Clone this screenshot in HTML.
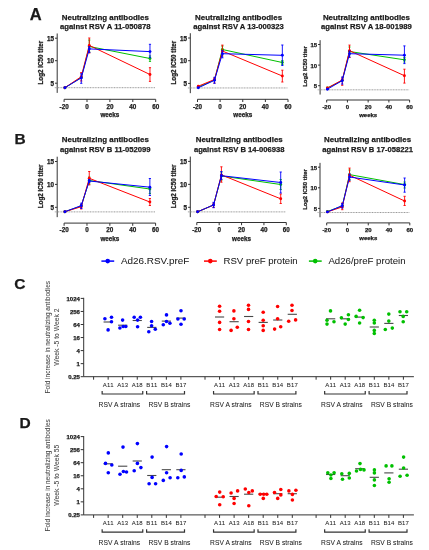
<!DOCTYPE html>
<html><head><meta charset="utf-8"><style>
html,body{margin:0;padding:0;background:#fff;width:429px;height:550px;overflow:hidden}
svg{display:block;will-change:transform}
text{font-family:"Liberation Sans",sans-serif}
</style></head><body>
<svg width="429" height="550" viewBox="0 0 429 550">
<rect width="429" height="550" fill="#fff"/>
<text x="105.3" y="19.75" font-size="8.1" font-weight="bold" fill="#1a1a1a" stroke="#1a1a1a" stroke-width="0.25" text-anchor="middle" textLength="87" lengthAdjust="spacingAndGlyphs">Neutralizing antibodies</text>
<text x="105.3" y="29.4" font-size="8.1" font-weight="bold" fill="#1a1a1a" stroke="#1a1a1a" stroke-width="0.25" text-anchor="middle" textLength="90.6" lengthAdjust="spacingAndGlyphs">against RSV A 11-050878</text>
<line x1="57.20" y1="33.48" x2="57.20" y2="92.88" stroke="#333333" stroke-width="1"/>
<line x1="55.00" y1="83.20" x2="57.20" y2="83.20" stroke="#333333" stroke-width="1"/>
<text x="54.0" y="85.9" font-size="6.3" font-weight="bold" fill="#1a1a1a" stroke="#1a1a1a" stroke-width="0.25" text-anchor="end">5</text>
<line x1="55.00" y1="60.70" x2="57.20" y2="60.70" stroke="#333333" stroke-width="1"/>
<text x="54.0" y="63.400000000000006" font-size="6.3" font-weight="bold" fill="#1a1a1a" stroke="#1a1a1a" stroke-width="0.25" text-anchor="end">10</text>
<line x1="55.00" y1="38.20" x2="57.20" y2="38.20" stroke="#333333" stroke-width="1"/>
<text x="54.0" y="40.900000000000006" font-size="6.3" font-weight="bold" fill="#1a1a1a" stroke="#1a1a1a" stroke-width="0.25" text-anchor="end">15</text>
<text x="42.6" y="62.650000000000006" font-size="6.3" font-weight="bold" fill="#1a1a1a" stroke="#1a1a1a" stroke-width="0.25" text-anchor="middle" transform="rotate(-90 42.6 62.650000000000006)">Log2 IC50 titer</text>
<line x1="64.10" y1="99.30" x2="155.70" y2="99.30" stroke="#333333" stroke-width="1"/>
<line x1="64.10" y1="99.30" x2="64.10" y2="102.00" stroke="#333333" stroke-width="1"/>
<text x="64.1" y="108.5" font-size="6.3" font-weight="bold" fill="#1a1a1a" stroke="#1a1a1a" stroke-width="0.25" text-anchor="middle">-20</text>
<line x1="87.00" y1="99.30" x2="87.00" y2="102.00" stroke="#333333" stroke-width="1"/>
<text x="87.0" y="108.5" font-size="6.3" font-weight="bold" fill="#1a1a1a" stroke="#1a1a1a" stroke-width="0.25" text-anchor="middle">0</text>
<line x1="109.90" y1="99.30" x2="109.90" y2="102.00" stroke="#333333" stroke-width="1"/>
<text x="109.89999999999999" y="108.5" font-size="6.3" font-weight="bold" fill="#1a1a1a" stroke="#1a1a1a" stroke-width="0.25" text-anchor="middle">20</text>
<line x1="132.80" y1="99.30" x2="132.80" y2="102.00" stroke="#333333" stroke-width="1"/>
<text x="132.8" y="108.5" font-size="6.3" font-weight="bold" fill="#1a1a1a" stroke="#1a1a1a" stroke-width="0.25" text-anchor="middle">40</text>
<line x1="155.70" y1="99.30" x2="155.70" y2="102.00" stroke="#333333" stroke-width="1"/>
<text x="155.7" y="108.5" font-size="6.3" font-weight="bold" fill="#1a1a1a" stroke="#1a1a1a" stroke-width="0.25" text-anchor="middle">60</text>
<text x="109.89999999999999" y="117.3" font-size="6.3" font-weight="bold" fill="#1a1a1a" stroke="#1a1a1a" stroke-width="0.25" text-anchor="middle">weeks</text>
<line x1="54.80" y1="87.70" x2="155.20" y2="87.70" stroke="#9a9a9a" stroke-width="1.0" stroke-dasharray="1 0.6"/>
<polyline points="64.90,87.70 81.27,77.50 89.29,46.50 149.97,58.50" fill="none" stroke="#00c000" stroke-width="1.0" stroke-linejoin="round"/>
<line x1="89.29" y1="40.00" x2="89.29" y2="52.00" stroke="#00c000" stroke-width="0.9"/>
<line x1="88.19" y1="40.00" x2="90.39" y2="40.00" stroke="#00c000" stroke-width="0.9"/>
<line x1="88.19" y1="52.00" x2="90.39" y2="52.00" stroke="#00c000" stroke-width="0.9"/>
<line x1="149.97" y1="55.90" x2="149.97" y2="61.40" stroke="#00c000" stroke-width="0.9"/>
<line x1="148.88" y1="55.90" x2="151.07" y2="55.90" stroke="#00c000" stroke-width="0.9"/>
<line x1="148.88" y1="61.40" x2="151.07" y2="61.40" stroke="#00c000" stroke-width="0.9"/>
<circle cx="64.90" cy="87.70" r="1.45" fill="#00c000"/>
<circle cx="81.27" cy="77.50" r="1.45" fill="#00c000"/>
<circle cx="89.29" cy="46.50" r="1.45" fill="#00c000"/>
<circle cx="149.97" cy="58.50" r="1.45" fill="#00c000"/>
<polyline points="64.90,87.70 81.27,76.70 89.29,45.40 149.97,74.50" fill="none" stroke="#ff0000" stroke-width="1.0" stroke-linejoin="round"/>
<line x1="81.27" y1="72.60" x2="81.27" y2="81.00" stroke="#ff0000" stroke-width="0.9"/>
<line x1="80.17" y1="72.60" x2="82.37" y2="72.60" stroke="#ff0000" stroke-width="0.9"/>
<line x1="80.17" y1="81.00" x2="82.37" y2="81.00" stroke="#ff0000" stroke-width="0.9"/>
<line x1="89.29" y1="38.00" x2="89.29" y2="53.00" stroke="#ff0000" stroke-width="0.9"/>
<line x1="88.19" y1="38.00" x2="90.39" y2="38.00" stroke="#ff0000" stroke-width="0.9"/>
<line x1="88.19" y1="53.00" x2="90.39" y2="53.00" stroke="#ff0000" stroke-width="0.9"/>
<line x1="149.97" y1="67.70" x2="149.97" y2="81.40" stroke="#ff0000" stroke-width="0.9"/>
<line x1="148.88" y1="67.70" x2="151.07" y2="67.70" stroke="#ff0000" stroke-width="0.9"/>
<line x1="148.88" y1="81.40" x2="151.07" y2="81.40" stroke="#ff0000" stroke-width="0.9"/>
<circle cx="64.90" cy="87.70" r="1.45" fill="#ff0000"/>
<circle cx="81.27" cy="76.70" r="1.45" fill="#ff0000"/>
<circle cx="89.29" cy="45.40" r="1.45" fill="#ff0000"/>
<circle cx="149.97" cy="74.50" r="1.45" fill="#ff0000"/>
<polyline points="64.90,87.70 81.27,77.90 89.29,48.90 149.97,51.60" fill="none" stroke="#0000ff" stroke-width="1.0" stroke-linejoin="round"/>
<line x1="81.27" y1="73.80" x2="81.27" y2="83.30" stroke="#0000ff" stroke-width="0.9"/>
<line x1="80.17" y1="73.80" x2="82.37" y2="73.80" stroke="#0000ff" stroke-width="0.9"/>
<line x1="80.17" y1="83.30" x2="82.37" y2="83.30" stroke="#0000ff" stroke-width="0.9"/>
<line x1="89.29" y1="46.60" x2="89.29" y2="52.50" stroke="#0000ff" stroke-width="0.9"/>
<line x1="88.19" y1="46.60" x2="90.39" y2="46.60" stroke="#0000ff" stroke-width="0.9"/>
<line x1="88.19" y1="52.50" x2="90.39" y2="52.50" stroke="#0000ff" stroke-width="0.9"/>
<line x1="149.97" y1="44.30" x2="149.97" y2="57.70" stroke="#0000ff" stroke-width="0.9"/>
<line x1="148.88" y1="44.30" x2="151.07" y2="44.30" stroke="#0000ff" stroke-width="0.9"/>
<line x1="148.88" y1="57.70" x2="151.07" y2="57.70" stroke="#0000ff" stroke-width="0.9"/>
<circle cx="64.90" cy="87.70" r="1.45" fill="#0000ff"/>
<circle cx="81.27" cy="77.90" r="1.45" fill="#0000ff"/>
<circle cx="89.29" cy="48.90" r="1.45" fill="#0000ff"/>
<circle cx="149.97" cy="51.60" r="1.45" fill="#0000ff"/>
<text x="238.6" y="19.75" font-size="8.1" font-weight="bold" fill="#1a1a1a" stroke="#1a1a1a" stroke-width="0.25" text-anchor="middle" textLength="87" lengthAdjust="spacingAndGlyphs">Neutralizing antibodies</text>
<text x="238.6" y="29.4" font-size="8.1" font-weight="bold" fill="#1a1a1a" stroke="#1a1a1a" stroke-width="0.25" text-anchor="middle" textLength="90.6" lengthAdjust="spacingAndGlyphs">against RSV A 13-000323</text>
<line x1="190.30" y1="33.23" x2="190.30" y2="93.16" stroke="#333333" stroke-width="1"/>
<line x1="188.10" y1="83.40" x2="190.30" y2="83.40" stroke="#333333" stroke-width="1"/>
<text x="187.10000000000002" y="86.10000000000001" font-size="6.3" font-weight="bold" fill="#1a1a1a" stroke="#1a1a1a" stroke-width="0.25" text-anchor="end">5</text>
<line x1="188.10" y1="60.70" x2="190.30" y2="60.70" stroke="#333333" stroke-width="1"/>
<text x="187.10000000000002" y="63.400000000000006" font-size="6.3" font-weight="bold" fill="#1a1a1a" stroke="#1a1a1a" stroke-width="0.25" text-anchor="end">10</text>
<line x1="188.10" y1="38.00" x2="190.30" y2="38.00" stroke="#333333" stroke-width="1"/>
<text x="187.10000000000002" y="40.7" font-size="6.3" font-weight="bold" fill="#1a1a1a" stroke="#1a1a1a" stroke-width="0.25" text-anchor="end">15</text>
<text x="175.70000000000002" y="62.67" font-size="6.3" font-weight="bold" fill="#1a1a1a" stroke="#1a1a1a" stroke-width="0.25" text-anchor="middle" transform="rotate(-90 175.70000000000002 62.67)">Log2 IC50 titer</text>
<line x1="197.50" y1="99.30" x2="288.00" y2="99.30" stroke="#333333" stroke-width="1"/>
<line x1="197.50" y1="99.30" x2="197.50" y2="102.00" stroke="#333333" stroke-width="1"/>
<text x="197.5" y="108.5" font-size="6.3" font-weight="bold" fill="#1a1a1a" stroke="#1a1a1a" stroke-width="0.25" text-anchor="middle">-20</text>
<line x1="220.12" y1="99.30" x2="220.12" y2="102.00" stroke="#333333" stroke-width="1"/>
<text x="220.125" y="108.5" font-size="6.3" font-weight="bold" fill="#1a1a1a" stroke="#1a1a1a" stroke-width="0.25" text-anchor="middle">0</text>
<line x1="242.75" y1="99.30" x2="242.75" y2="102.00" stroke="#333333" stroke-width="1"/>
<text x="242.75" y="108.5" font-size="6.3" font-weight="bold" fill="#1a1a1a" stroke="#1a1a1a" stroke-width="0.25" text-anchor="middle">20</text>
<line x1="265.38" y1="99.30" x2="265.38" y2="102.00" stroke="#333333" stroke-width="1"/>
<text x="265.375" y="108.5" font-size="6.3" font-weight="bold" fill="#1a1a1a" stroke="#1a1a1a" stroke-width="0.25" text-anchor="middle">40</text>
<line x1="288.00" y1="99.30" x2="288.00" y2="102.00" stroke="#333333" stroke-width="1"/>
<text x="288.0" y="108.5" font-size="6.3" font-weight="bold" fill="#1a1a1a" stroke="#1a1a1a" stroke-width="0.25" text-anchor="middle">60</text>
<text x="242.75" y="117.3" font-size="6.3" font-weight="bold" fill="#1a1a1a" stroke="#1a1a1a" stroke-width="0.25" text-anchor="middle">weeks</text>
<line x1="187.90" y1="87.94" x2="287.50" y2="87.94" stroke="#9a9a9a" stroke-width="1.0" stroke-dasharray="1 0.6"/>
<polyline points="198.30,87.00 214.47,80.00 222.39,49.50 282.34,62.50" fill="none" stroke="#00c000" stroke-width="1.0" stroke-linejoin="round"/>
<line x1="222.39" y1="46.00" x2="222.39" y2="54.00" stroke="#00c000" stroke-width="0.9"/>
<line x1="221.29" y1="46.00" x2="223.49" y2="46.00" stroke="#00c000" stroke-width="0.9"/>
<line x1="221.29" y1="54.00" x2="223.49" y2="54.00" stroke="#00c000" stroke-width="0.9"/>
<line x1="282.34" y1="60.50" x2="282.34" y2="64.50" stroke="#00c000" stroke-width="0.9"/>
<line x1="281.24" y1="60.50" x2="283.44" y2="60.50" stroke="#00c000" stroke-width="0.9"/>
<line x1="281.24" y1="64.50" x2="283.44" y2="64.50" stroke="#00c000" stroke-width="0.9"/>
<circle cx="198.30" cy="87.00" r="1.45" fill="#00c000"/>
<circle cx="214.47" cy="80.00" r="1.45" fill="#00c000"/>
<circle cx="222.39" cy="49.50" r="1.45" fill="#00c000"/>
<circle cx="282.34" cy="62.50" r="1.45" fill="#00c000"/>
<polyline points="198.30,86.20 214.47,79.50 222.39,51.00 282.34,76.00" fill="none" stroke="#ff0000" stroke-width="1.0" stroke-linejoin="round"/>
<line x1="214.47" y1="78.00" x2="214.47" y2="83.00" stroke="#ff0000" stroke-width="0.9"/>
<line x1="213.37" y1="78.00" x2="215.57" y2="78.00" stroke="#ff0000" stroke-width="0.9"/>
<line x1="213.37" y1="83.00" x2="215.57" y2="83.00" stroke="#ff0000" stroke-width="0.9"/>
<line x1="222.39" y1="45.10" x2="222.39" y2="56.00" stroke="#ff0000" stroke-width="0.9"/>
<line x1="221.29" y1="45.10" x2="223.49" y2="45.10" stroke="#ff0000" stroke-width="0.9"/>
<line x1="221.29" y1="56.00" x2="223.49" y2="56.00" stroke="#ff0000" stroke-width="0.9"/>
<line x1="282.34" y1="70.20" x2="282.34" y2="82.00" stroke="#ff0000" stroke-width="0.9"/>
<line x1="281.24" y1="70.20" x2="283.44" y2="70.20" stroke="#ff0000" stroke-width="0.9"/>
<line x1="281.24" y1="82.00" x2="283.44" y2="82.00" stroke="#ff0000" stroke-width="0.9"/>
<circle cx="198.30" cy="86.20" r="1.45" fill="#ff0000"/>
<circle cx="214.47" cy="79.50" r="1.45" fill="#ff0000"/>
<circle cx="222.39" cy="51.00" r="1.45" fill="#ff0000"/>
<circle cx="282.34" cy="76.00" r="1.45" fill="#ff0000"/>
<polyline points="198.30,87.80 214.47,80.30 222.39,53.70 282.34,55.30" fill="none" stroke="#0000ff" stroke-width="1.0" stroke-linejoin="round"/>
<line x1="214.47" y1="77.30" x2="214.47" y2="83.30" stroke="#0000ff" stroke-width="0.9"/>
<line x1="213.37" y1="77.30" x2="215.57" y2="77.30" stroke="#0000ff" stroke-width="0.9"/>
<line x1="213.37" y1="83.30" x2="215.57" y2="83.30" stroke="#0000ff" stroke-width="0.9"/>
<line x1="222.39" y1="50.70" x2="222.39" y2="57.80" stroke="#0000ff" stroke-width="0.9"/>
<line x1="221.29" y1="50.70" x2="223.49" y2="50.70" stroke="#0000ff" stroke-width="0.9"/>
<line x1="221.29" y1="57.80" x2="223.49" y2="57.80" stroke="#0000ff" stroke-width="0.9"/>
<line x1="282.34" y1="45.00" x2="282.34" y2="65.50" stroke="#0000ff" stroke-width="0.9"/>
<line x1="281.24" y1="45.00" x2="283.44" y2="45.00" stroke="#0000ff" stroke-width="0.9"/>
<line x1="281.24" y1="65.50" x2="283.44" y2="65.50" stroke="#0000ff" stroke-width="0.9"/>
<circle cx="198.30" cy="87.80" r="1.45" fill="#0000ff"/>
<circle cx="214.47" cy="80.30" r="1.45" fill="#0000ff"/>
<circle cx="222.39" cy="53.70" r="1.45" fill="#0000ff"/>
<circle cx="282.34" cy="55.30" r="1.45" fill="#0000ff"/>
<text x="366.4" y="19.75" font-size="8.1" font-weight="bold" fill="#1a1a1a" stroke="#1a1a1a" stroke-width="0.25" text-anchor="middle" textLength="87" lengthAdjust="spacingAndGlyphs">Neutralizing antibodies</text>
<text x="366.4" y="29.4" font-size="8.1" font-weight="bold" fill="#1a1a1a" stroke="#1a1a1a" stroke-width="0.25" text-anchor="middle" textLength="90.6" lengthAdjust="spacingAndGlyphs">against RSV A 18-001989</text>
<line x1="320.10" y1="40.17" x2="320.10" y2="94.56" stroke="#333333" stroke-width="1"/>
<line x1="318.09" y1="85.70" x2="320.10" y2="85.70" stroke="#333333" stroke-width="1"/>
<text x="317.172" y="88.265" font-size="5.984999999999999" font-weight="bold" fill="#1a1a1a" stroke="#1a1a1a" stroke-width="0.25" text-anchor="end">5</text>
<line x1="318.09" y1="65.10" x2="320.10" y2="65.10" stroke="#333333" stroke-width="1"/>
<text x="317.172" y="67.66499999999999" font-size="5.984999999999999" font-weight="bold" fill="#1a1a1a" stroke="#1a1a1a" stroke-width="0.25" text-anchor="end">10</text>
<line x1="318.09" y1="44.50" x2="320.10" y2="44.50" stroke="#333333" stroke-width="1"/>
<text x="317.172" y="47.065" font-size="5.984999999999999" font-weight="bold" fill="#1a1a1a" stroke="#1a1a1a" stroke-width="0.25" text-anchor="end">15</text>
<text x="306.74100000000004" y="66.4" font-size="5.85" font-weight="bold" fill="#1a1a1a" stroke="#1a1a1a" stroke-width="0.25" text-anchor="middle" transform="rotate(-90 306.74100000000004 66.4)">Log2 IC50 titer</text>
<line x1="326.70" y1="100.00" x2="409.60" y2="100.00" stroke="#333333" stroke-width="1"/>
<line x1="326.70" y1="100.00" x2="326.70" y2="102.47" stroke="#333333" stroke-width="1"/>
<text x="326.7" y="108.74" font-size="5.984999999999999" font-weight="bold" fill="#1a1a1a" stroke="#1a1a1a" stroke-width="0.25" text-anchor="middle">-20</text>
<line x1="347.43" y1="100.00" x2="347.43" y2="102.47" stroke="#333333" stroke-width="1"/>
<text x="347.425" y="108.74" font-size="5.984999999999999" font-weight="bold" fill="#1a1a1a" stroke="#1a1a1a" stroke-width="0.25" text-anchor="middle">0</text>
<line x1="368.15" y1="100.00" x2="368.15" y2="102.47" stroke="#333333" stroke-width="1"/>
<text x="368.15" y="108.74" font-size="5.984999999999999" font-weight="bold" fill="#1a1a1a" stroke="#1a1a1a" stroke-width="0.25" text-anchor="middle">20</text>
<line x1="388.88" y1="100.00" x2="388.88" y2="102.47" stroke="#333333" stroke-width="1"/>
<text x="388.875" y="108.74" font-size="5.984999999999999" font-weight="bold" fill="#1a1a1a" stroke="#1a1a1a" stroke-width="0.25" text-anchor="middle">40</text>
<line x1="409.60" y1="100.00" x2="409.60" y2="102.47" stroke="#333333" stroke-width="1"/>
<text x="409.6" y="108.74" font-size="5.984999999999999" font-weight="bold" fill="#1a1a1a" stroke="#1a1a1a" stroke-width="0.25" text-anchor="middle">60</text>
<text x="368.15" y="117.1" font-size="5.984999999999999" font-weight="bold" fill="#1a1a1a" stroke="#1a1a1a" stroke-width="0.25" text-anchor="middle">weeks</text>
<line x1="317.70" y1="89.82" x2="409.10" y2="89.82" stroke="#9a9a9a" stroke-width="1.0" stroke-dasharray="1 0.6"/>
<polyline points="327.43,88.00 342.24,80.50 349.50,51.50 404.42,59.80" fill="none" stroke="#00c000" stroke-width="1.0" stroke-linejoin="round"/>
<line x1="349.50" y1="47.00" x2="349.50" y2="55.00" stroke="#00c000" stroke-width="0.9"/>
<line x1="348.40" y1="47.00" x2="350.60" y2="47.00" stroke="#00c000" stroke-width="0.9"/>
<line x1="348.40" y1="55.00" x2="350.60" y2="55.00" stroke="#00c000" stroke-width="0.9"/>
<line x1="404.42" y1="57.50" x2="404.42" y2="62.00" stroke="#00c000" stroke-width="0.9"/>
<line x1="403.32" y1="57.50" x2="405.52" y2="57.50" stroke="#00c000" stroke-width="0.9"/>
<line x1="403.32" y1="62.00" x2="405.52" y2="62.00" stroke="#00c000" stroke-width="0.9"/>
<circle cx="327.43" cy="88.00" r="1.45" fill="#00c000"/>
<circle cx="342.24" cy="80.50" r="1.45" fill="#00c000"/>
<circle cx="349.50" cy="51.50" r="1.45" fill="#00c000"/>
<circle cx="404.42" cy="59.80" r="1.45" fill="#00c000"/>
<polyline points="327.43,88.00 342.24,80.00 349.50,50.70 404.42,75.70" fill="none" stroke="#ff0000" stroke-width="1.0" stroke-linejoin="round"/>
<line x1="342.24" y1="78.00" x2="342.24" y2="85.30" stroke="#ff0000" stroke-width="0.9"/>
<line x1="341.14" y1="78.00" x2="343.34" y2="78.00" stroke="#ff0000" stroke-width="0.9"/>
<line x1="341.14" y1="85.30" x2="343.34" y2="85.30" stroke="#ff0000" stroke-width="0.9"/>
<line x1="349.50" y1="45.10" x2="349.50" y2="57.50" stroke="#ff0000" stroke-width="0.9"/>
<line x1="348.40" y1="45.10" x2="350.60" y2="45.10" stroke="#ff0000" stroke-width="0.9"/>
<line x1="348.40" y1="57.50" x2="350.60" y2="57.50" stroke="#ff0000" stroke-width="0.9"/>
<line x1="404.42" y1="69.20" x2="404.42" y2="83.10" stroke="#ff0000" stroke-width="0.9"/>
<line x1="403.32" y1="69.20" x2="405.52" y2="69.20" stroke="#ff0000" stroke-width="0.9"/>
<line x1="403.32" y1="83.10" x2="405.52" y2="83.10" stroke="#ff0000" stroke-width="0.9"/>
<circle cx="327.43" cy="88.00" r="1.45" fill="#ff0000"/>
<circle cx="342.24" cy="80.00" r="1.45" fill="#ff0000"/>
<circle cx="349.50" cy="50.70" r="1.45" fill="#ff0000"/>
<circle cx="404.42" cy="75.70" r="1.45" fill="#ff0000"/>
<polyline points="327.43,89.20 342.24,80.60 349.50,53.70 404.42,55.20" fill="none" stroke="#0000ff" stroke-width="1.0" stroke-linejoin="round"/>
<line x1="342.24" y1="77.00" x2="342.24" y2="84.10" stroke="#0000ff" stroke-width="0.9"/>
<line x1="341.14" y1="77.00" x2="343.34" y2="77.00" stroke="#0000ff" stroke-width="0.9"/>
<line x1="341.14" y1="84.10" x2="343.34" y2="84.10" stroke="#0000ff" stroke-width="0.9"/>
<line x1="349.50" y1="51.00" x2="349.50" y2="57.00" stroke="#0000ff" stroke-width="0.9"/>
<line x1="348.40" y1="51.00" x2="350.60" y2="51.00" stroke="#0000ff" stroke-width="0.9"/>
<line x1="348.40" y1="57.00" x2="350.60" y2="57.00" stroke="#0000ff" stroke-width="0.9"/>
<line x1="404.42" y1="45.90" x2="404.42" y2="63.60" stroke="#0000ff" stroke-width="0.9"/>
<line x1="403.32" y1="45.90" x2="405.52" y2="45.90" stroke="#0000ff" stroke-width="0.9"/>
<line x1="403.32" y1="63.60" x2="405.52" y2="63.60" stroke="#0000ff" stroke-width="0.9"/>
<circle cx="327.43" cy="89.20" r="1.45" fill="#0000ff"/>
<circle cx="342.24" cy="80.60" r="1.45" fill="#0000ff"/>
<circle cx="349.50" cy="53.70" r="1.45" fill="#0000ff"/>
<circle cx="404.42" cy="55.20" r="1.45" fill="#0000ff"/>
<text x="105.3" y="142.25" font-size="8.1" font-weight="bold" fill="#1a1a1a" stroke="#1a1a1a" stroke-width="0.25" text-anchor="middle" textLength="87" lengthAdjust="spacingAndGlyphs">Neutralizing antibodies</text>
<text x="105.3" y="151.6" font-size="8.1" font-weight="bold" fill="#1a1a1a" stroke="#1a1a1a" stroke-width="0.25" text-anchor="middle" textLength="90.6" lengthAdjust="spacingAndGlyphs">against RSV B 11-052099</text>
<line x1="57.20" y1="156.69" x2="57.20" y2="217.15" stroke="#333333" stroke-width="1"/>
<line x1="55.00" y1="207.30" x2="57.20" y2="207.30" stroke="#333333" stroke-width="1"/>
<text x="54.0" y="210.0" font-size="6.3" font-weight="bold" fill="#1a1a1a" stroke="#1a1a1a" stroke-width="0.25" text-anchor="end">5</text>
<line x1="55.00" y1="184.40" x2="57.20" y2="184.40" stroke="#333333" stroke-width="1"/>
<text x="54.0" y="187.1" font-size="6.3" font-weight="bold" fill="#1a1a1a" stroke="#1a1a1a" stroke-width="0.25" text-anchor="end">10</text>
<line x1="55.00" y1="161.50" x2="57.20" y2="161.50" stroke="#333333" stroke-width="1"/>
<text x="54.0" y="164.2" font-size="6.3" font-weight="bold" fill="#1a1a1a" stroke="#1a1a1a" stroke-width="0.25" text-anchor="end">15</text>
<text x="42.6" y="186.39" font-size="6.3" font-weight="bold" fill="#1a1a1a" stroke="#1a1a1a" stroke-width="0.25" text-anchor="middle" transform="rotate(-90 42.6 186.39)">Log2 IC50 titer</text>
<line x1="64.10" y1="223.10" x2="155.60" y2="223.10" stroke="#333333" stroke-width="1"/>
<line x1="64.10" y1="223.10" x2="64.10" y2="225.80" stroke="#333333" stroke-width="1"/>
<text x="64.1" y="232.29999999999998" font-size="6.3" font-weight="bold" fill="#1a1a1a" stroke="#1a1a1a" stroke-width="0.25" text-anchor="middle">-20</text>
<line x1="86.97" y1="223.10" x2="86.97" y2="225.80" stroke="#333333" stroke-width="1"/>
<text x="86.975" y="232.29999999999998" font-size="6.3" font-weight="bold" fill="#1a1a1a" stroke="#1a1a1a" stroke-width="0.25" text-anchor="middle">0</text>
<line x1="109.85" y1="223.10" x2="109.85" y2="225.80" stroke="#333333" stroke-width="1"/>
<text x="109.85" y="232.29999999999998" font-size="6.3" font-weight="bold" fill="#1a1a1a" stroke="#1a1a1a" stroke-width="0.25" text-anchor="middle">20</text>
<line x1="132.72" y1="223.10" x2="132.72" y2="225.80" stroke="#333333" stroke-width="1"/>
<text x="132.725" y="232.29999999999998" font-size="6.3" font-weight="bold" fill="#1a1a1a" stroke="#1a1a1a" stroke-width="0.25" text-anchor="middle">40</text>
<line x1="155.60" y1="223.10" x2="155.60" y2="225.80" stroke="#333333" stroke-width="1"/>
<text x="155.6" y="232.29999999999998" font-size="6.3" font-weight="bold" fill="#1a1a1a" stroke="#1a1a1a" stroke-width="0.25" text-anchor="middle">60</text>
<text x="109.85" y="241.1" font-size="6.3" font-weight="bold" fill="#1a1a1a" stroke="#1a1a1a" stroke-width="0.25" text-anchor="middle">weeks</text>
<line x1="54.80" y1="211.88" x2="155.10" y2="211.88" stroke="#9a9a9a" stroke-width="1.0" stroke-dasharray="1 0.6"/>
<polyline points="64.90,211.70 81.26,206.00 89.26,180.50 149.88,189.00" fill="none" stroke="#00c000" stroke-width="1.0" stroke-linejoin="round"/>
<line x1="89.26" y1="177.00" x2="89.26" y2="184.00" stroke="#00c000" stroke-width="0.9"/>
<line x1="88.16" y1="177.00" x2="90.36" y2="177.00" stroke="#00c000" stroke-width="0.9"/>
<line x1="88.16" y1="184.00" x2="90.36" y2="184.00" stroke="#00c000" stroke-width="0.9"/>
<line x1="149.88" y1="188.00" x2="149.88" y2="193.50" stroke="#00c000" stroke-width="0.9"/>
<line x1="148.78" y1="188.00" x2="150.98" y2="188.00" stroke="#00c000" stroke-width="0.9"/>
<line x1="148.78" y1="193.50" x2="150.98" y2="193.50" stroke="#00c000" stroke-width="0.9"/>
<circle cx="64.90" cy="211.70" r="1.45" fill="#00c000"/>
<circle cx="81.26" cy="206.00" r="1.45" fill="#00c000"/>
<circle cx="89.26" cy="180.50" r="1.45" fill="#00c000"/>
<circle cx="149.88" cy="189.00" r="1.45" fill="#00c000"/>
<polyline points="64.90,211.70 81.26,206.70 89.26,178.30 149.88,202.00" fill="none" stroke="#ff0000" stroke-width="1.0" stroke-linejoin="round"/>
<line x1="81.26" y1="204.50" x2="81.26" y2="209.00" stroke="#ff0000" stroke-width="0.9"/>
<line x1="80.16" y1="204.50" x2="82.36" y2="204.50" stroke="#ff0000" stroke-width="0.9"/>
<line x1="80.16" y1="209.00" x2="82.36" y2="209.00" stroke="#ff0000" stroke-width="0.9"/>
<line x1="89.26" y1="171.50" x2="89.26" y2="184.90" stroke="#ff0000" stroke-width="0.9"/>
<line x1="88.16" y1="171.50" x2="90.36" y2="171.50" stroke="#ff0000" stroke-width="0.9"/>
<line x1="88.16" y1="184.90" x2="90.36" y2="184.90" stroke="#ff0000" stroke-width="0.9"/>
<line x1="149.88" y1="198.50" x2="149.88" y2="205.50" stroke="#ff0000" stroke-width="0.9"/>
<line x1="148.78" y1="198.50" x2="150.98" y2="198.50" stroke="#ff0000" stroke-width="0.9"/>
<line x1="148.78" y1="205.50" x2="150.98" y2="205.50" stroke="#ff0000" stroke-width="0.9"/>
<circle cx="64.90" cy="211.70" r="1.45" fill="#ff0000"/>
<circle cx="81.26" cy="206.70" r="1.45" fill="#ff0000"/>
<circle cx="89.26" cy="178.30" r="1.45" fill="#ff0000"/>
<circle cx="149.88" cy="202.00" r="1.45" fill="#ff0000"/>
<polyline points="64.90,211.70 81.26,205.60 89.26,181.00 149.88,187.20" fill="none" stroke="#0000ff" stroke-width="1.0" stroke-linejoin="round"/>
<line x1="81.26" y1="203.20" x2="81.26" y2="208.50" stroke="#0000ff" stroke-width="0.9"/>
<line x1="80.16" y1="203.20" x2="82.36" y2="203.20" stroke="#0000ff" stroke-width="0.9"/>
<line x1="80.16" y1="208.50" x2="82.36" y2="208.50" stroke="#0000ff" stroke-width="0.9"/>
<line x1="89.26" y1="179.50" x2="89.26" y2="182.50" stroke="#0000ff" stroke-width="0.9"/>
<line x1="88.16" y1="179.50" x2="90.36" y2="179.50" stroke="#0000ff" stroke-width="0.9"/>
<line x1="88.16" y1="182.50" x2="90.36" y2="182.50" stroke="#0000ff" stroke-width="0.9"/>
<line x1="149.88" y1="178.50" x2="149.88" y2="195.50" stroke="#0000ff" stroke-width="0.9"/>
<line x1="148.78" y1="178.50" x2="150.98" y2="178.50" stroke="#0000ff" stroke-width="0.9"/>
<line x1="148.78" y1="195.50" x2="150.98" y2="195.50" stroke="#0000ff" stroke-width="0.9"/>
<circle cx="64.90" cy="211.70" r="1.45" fill="#0000ff"/>
<circle cx="81.26" cy="205.60" r="1.45" fill="#0000ff"/>
<circle cx="89.26" cy="181.00" r="1.45" fill="#0000ff"/>
<circle cx="149.88" cy="187.20" r="1.45" fill="#0000ff"/>
<text x="239.2" y="142.25" font-size="8.1" font-weight="bold" fill="#1a1a1a" stroke="#1a1a1a" stroke-width="0.25" text-anchor="middle" textLength="87" lengthAdjust="spacingAndGlyphs">Neutralizing antibodies</text>
<text x="239.2" y="151.6" font-size="8.1" font-weight="bold" fill="#1a1a1a" stroke="#1a1a1a" stroke-width="0.25" text-anchor="middle" textLength="90.6" lengthAdjust="spacingAndGlyphs">against RSV B 14-006938</text>
<line x1="190.30" y1="156.58" x2="190.30" y2="217.17" stroke="#333333" stroke-width="1"/>
<line x1="188.10" y1="207.30" x2="190.30" y2="207.30" stroke="#333333" stroke-width="1"/>
<text x="187.10000000000002" y="210.0" font-size="6.3" font-weight="bold" fill="#1a1a1a" stroke="#1a1a1a" stroke-width="0.25" text-anchor="end">5</text>
<line x1="188.10" y1="184.35" x2="190.30" y2="184.35" stroke="#333333" stroke-width="1"/>
<text x="187.10000000000002" y="187.05" font-size="6.3" font-weight="bold" fill="#1a1a1a" stroke="#1a1a1a" stroke-width="0.25" text-anchor="end">10</text>
<line x1="188.10" y1="161.40" x2="190.30" y2="161.40" stroke="#333333" stroke-width="1"/>
<text x="187.10000000000002" y="164.1" font-size="6.3" font-weight="bold" fill="#1a1a1a" stroke="#1a1a1a" stroke-width="0.25" text-anchor="end">15</text>
<text x="175.70000000000002" y="186.345" font-size="6.3" font-weight="bold" fill="#1a1a1a" stroke="#1a1a1a" stroke-width="0.25" text-anchor="middle" transform="rotate(-90 175.70000000000002 186.345)">Log2 IC50 titer</text>
<line x1="196.80" y1="222.50" x2="286.30" y2="222.50" stroke="#333333" stroke-width="1"/>
<line x1="196.80" y1="222.50" x2="196.80" y2="225.20" stroke="#333333" stroke-width="1"/>
<text x="196.8" y="231.7" font-size="6.3" font-weight="bold" fill="#1a1a1a" stroke="#1a1a1a" stroke-width="0.25" text-anchor="middle">-20</text>
<line x1="219.18" y1="222.50" x2="219.18" y2="225.20" stroke="#333333" stroke-width="1"/>
<text x="219.175" y="231.7" font-size="6.3" font-weight="bold" fill="#1a1a1a" stroke="#1a1a1a" stroke-width="0.25" text-anchor="middle">0</text>
<line x1="241.55" y1="222.50" x2="241.55" y2="225.20" stroke="#333333" stroke-width="1"/>
<text x="241.55" y="231.7" font-size="6.3" font-weight="bold" fill="#1a1a1a" stroke="#1a1a1a" stroke-width="0.25" text-anchor="middle">20</text>
<line x1="263.93" y1="222.50" x2="263.93" y2="225.20" stroke="#333333" stroke-width="1"/>
<text x="263.925" y="231.7" font-size="6.3" font-weight="bold" fill="#1a1a1a" stroke="#1a1a1a" stroke-width="0.25" text-anchor="middle">40</text>
<line x1="286.30" y1="222.50" x2="286.30" y2="225.20" stroke="#333333" stroke-width="1"/>
<text x="286.3" y="231.7" font-size="6.3" font-weight="bold" fill="#1a1a1a" stroke="#1a1a1a" stroke-width="0.25" text-anchor="middle">60</text>
<text x="241.55" y="240.5" font-size="6.3" font-weight="bold" fill="#1a1a1a" stroke="#1a1a1a" stroke-width="0.25" text-anchor="middle">weeks</text>
<line x1="187.90" y1="211.89" x2="285.80" y2="211.89" stroke="#9a9a9a" stroke-width="1.0" stroke-dasharray="1 0.6"/>
<polyline points="197.60,211.80 213.58,205.00 221.41,176.00 280.71,184.50" fill="none" stroke="#00c000" stroke-width="1.0" stroke-linejoin="round"/>
<line x1="221.41" y1="172.00" x2="221.41" y2="180.00" stroke="#00c000" stroke-width="0.9"/>
<line x1="220.31" y1="172.00" x2="222.51" y2="172.00" stroke="#00c000" stroke-width="0.9"/>
<line x1="220.31" y1="180.00" x2="222.51" y2="180.00" stroke="#00c000" stroke-width="0.9"/>
<line x1="280.71" y1="179.50" x2="280.71" y2="189.50" stroke="#00c000" stroke-width="0.9"/>
<line x1="279.61" y1="179.50" x2="281.81" y2="179.50" stroke="#00c000" stroke-width="0.9"/>
<line x1="279.61" y1="189.50" x2="281.81" y2="189.50" stroke="#00c000" stroke-width="0.9"/>
<circle cx="197.60" cy="211.80" r="1.45" fill="#00c000"/>
<circle cx="213.58" cy="205.00" r="1.45" fill="#00c000"/>
<circle cx="221.41" cy="176.00" r="1.45" fill="#00c000"/>
<circle cx="280.71" cy="184.50" r="1.45" fill="#00c000"/>
<polyline points="197.60,211.80 213.58,205.00 221.41,174.90 280.71,198.80" fill="none" stroke="#ff0000" stroke-width="1.0" stroke-linejoin="round"/>
<line x1="213.58" y1="203.00" x2="213.58" y2="207.50" stroke="#ff0000" stroke-width="0.9"/>
<line x1="212.48" y1="203.00" x2="214.68" y2="203.00" stroke="#ff0000" stroke-width="0.9"/>
<line x1="212.48" y1="207.50" x2="214.68" y2="207.50" stroke="#ff0000" stroke-width="0.9"/>
<line x1="221.41" y1="166.80" x2="221.41" y2="182.20" stroke="#ff0000" stroke-width="0.9"/>
<line x1="220.31" y1="166.80" x2="222.51" y2="166.80" stroke="#ff0000" stroke-width="0.9"/>
<line x1="220.31" y1="182.20" x2="222.51" y2="182.20" stroke="#ff0000" stroke-width="0.9"/>
<line x1="280.71" y1="194.00" x2="280.71" y2="203.50" stroke="#ff0000" stroke-width="0.9"/>
<line x1="279.61" y1="194.00" x2="281.81" y2="194.00" stroke="#ff0000" stroke-width="0.9"/>
<line x1="279.61" y1="203.50" x2="281.81" y2="203.50" stroke="#ff0000" stroke-width="0.9"/>
<circle cx="197.60" cy="211.80" r="1.45" fill="#ff0000"/>
<circle cx="213.58" cy="205.00" r="1.45" fill="#ff0000"/>
<circle cx="221.41" cy="174.90" r="1.45" fill="#ff0000"/>
<circle cx="280.71" cy="198.80" r="1.45" fill="#ff0000"/>
<polyline points="197.60,211.80 213.58,204.90 221.41,175.70 280.71,182.50" fill="none" stroke="#0000ff" stroke-width="1.0" stroke-linejoin="round"/>
<line x1="213.58" y1="202.30" x2="213.58" y2="207.70" stroke="#0000ff" stroke-width="0.9"/>
<line x1="212.48" y1="202.30" x2="214.68" y2="202.30" stroke="#0000ff" stroke-width="0.9"/>
<line x1="212.48" y1="207.70" x2="214.68" y2="207.70" stroke="#0000ff" stroke-width="0.9"/>
<line x1="221.41" y1="171.60" x2="221.41" y2="179.30" stroke="#0000ff" stroke-width="0.9"/>
<line x1="220.31" y1="171.60" x2="222.51" y2="171.60" stroke="#0000ff" stroke-width="0.9"/>
<line x1="220.31" y1="179.30" x2="222.51" y2="179.30" stroke="#0000ff" stroke-width="0.9"/>
<line x1="280.71" y1="172.00" x2="280.71" y2="193.00" stroke="#0000ff" stroke-width="0.9"/>
<line x1="279.61" y1="172.00" x2="281.81" y2="172.00" stroke="#0000ff" stroke-width="0.9"/>
<line x1="279.61" y1="193.00" x2="281.81" y2="193.00" stroke="#0000ff" stroke-width="0.9"/>
<circle cx="197.60" cy="211.80" r="1.45" fill="#0000ff"/>
<circle cx="213.58" cy="204.90" r="1.45" fill="#0000ff"/>
<circle cx="221.41" cy="175.70" r="1.45" fill="#0000ff"/>
<circle cx="280.71" cy="182.50" r="1.45" fill="#0000ff"/>
<text x="367.6" y="142.25" font-size="8.1" font-weight="bold" fill="#1a1a1a" stroke="#1a1a1a" stroke-width="0.25" text-anchor="middle" textLength="87" lengthAdjust="spacingAndGlyphs">Neutralizing antibodies</text>
<text x="367.6" y="151.6" font-size="8.1" font-weight="bold" fill="#1a1a1a" stroke="#1a1a1a" stroke-width="0.25" text-anchor="middle" textLength="90.6" lengthAdjust="spacingAndGlyphs">against RSV B 17-058221</text>
<line x1="320.00" y1="162.87" x2="320.00" y2="217.26" stroke="#333333" stroke-width="1"/>
<line x1="317.99" y1="208.40" x2="320.00" y2="208.40" stroke="#333333" stroke-width="1"/>
<text x="317.072" y="210.965" font-size="5.984999999999999" font-weight="bold" fill="#1a1a1a" stroke="#1a1a1a" stroke-width="0.25" text-anchor="end">5</text>
<line x1="317.99" y1="187.80" x2="320.00" y2="187.80" stroke="#333333" stroke-width="1"/>
<text x="317.072" y="190.365" font-size="5.984999999999999" font-weight="bold" fill="#1a1a1a" stroke="#1a1a1a" stroke-width="0.25" text-anchor="end">10</text>
<line x1="317.99" y1="167.20" x2="320.00" y2="167.20" stroke="#333333" stroke-width="1"/>
<text x="317.072" y="169.765" font-size="5.984999999999999" font-weight="bold" fill="#1a1a1a" stroke="#1a1a1a" stroke-width="0.25" text-anchor="end">15</text>
<text x="306.641" y="189.56" font-size="5.85" font-weight="bold" fill="#1a1a1a" stroke="#1a1a1a" stroke-width="0.25" text-anchor="middle" transform="rotate(-90 306.641 189.56)">Log2 IC50 titer</text>
<line x1="326.70" y1="222.90" x2="409.80" y2="222.90" stroke="#333333" stroke-width="1"/>
<line x1="326.70" y1="222.90" x2="326.70" y2="225.37" stroke="#333333" stroke-width="1"/>
<text x="326.7" y="231.64000000000001" font-size="5.984999999999999" font-weight="bold" fill="#1a1a1a" stroke="#1a1a1a" stroke-width="0.25" text-anchor="middle">-20</text>
<line x1="347.48" y1="222.90" x2="347.48" y2="225.37" stroke="#333333" stroke-width="1"/>
<text x="347.475" y="231.64000000000001" font-size="5.984999999999999" font-weight="bold" fill="#1a1a1a" stroke="#1a1a1a" stroke-width="0.25" text-anchor="middle">0</text>
<line x1="368.25" y1="222.90" x2="368.25" y2="225.37" stroke="#333333" stroke-width="1"/>
<text x="368.25" y="231.64000000000001" font-size="5.984999999999999" font-weight="bold" fill="#1a1a1a" stroke="#1a1a1a" stroke-width="0.25" text-anchor="middle">20</text>
<line x1="389.03" y1="222.90" x2="389.03" y2="225.37" stroke="#333333" stroke-width="1"/>
<text x="389.02500000000003" y="231.64000000000001" font-size="5.984999999999999" font-weight="bold" fill="#1a1a1a" stroke="#1a1a1a" stroke-width="0.25" text-anchor="middle">40</text>
<line x1="409.80" y1="222.90" x2="409.80" y2="225.37" stroke="#333333" stroke-width="1"/>
<text x="409.8" y="231.64000000000001" font-size="5.984999999999999" font-weight="bold" fill="#1a1a1a" stroke="#1a1a1a" stroke-width="0.25" text-anchor="middle">60</text>
<text x="368.25" y="240.0" font-size="5.984999999999999" font-weight="bold" fill="#1a1a1a" stroke="#1a1a1a" stroke-width="0.25" text-anchor="middle">weeks</text>
<line x1="317.60" y1="212.52" x2="409.30" y2="212.52" stroke="#9a9a9a" stroke-width="1.0" stroke-dasharray="1 0.6"/>
<polyline points="327.43,211.50 342.28,206.00 349.55,174.60 404.61,184.60" fill="none" stroke="#00c000" stroke-width="1.0" stroke-linejoin="round"/>
<line x1="349.55" y1="170.00" x2="349.55" y2="180.00" stroke="#00c000" stroke-width="0.9"/>
<line x1="348.45" y1="170.00" x2="350.65" y2="170.00" stroke="#00c000" stroke-width="0.9"/>
<line x1="348.45" y1="180.00" x2="350.65" y2="180.00" stroke="#00c000" stroke-width="0.9"/>
<line x1="404.61" y1="182.00" x2="404.61" y2="188.00" stroke="#00c000" stroke-width="0.9"/>
<line x1="403.51" y1="182.00" x2="405.71" y2="182.00" stroke="#00c000" stroke-width="0.9"/>
<line x1="403.51" y1="188.00" x2="405.71" y2="188.00" stroke="#00c000" stroke-width="0.9"/>
<circle cx="327.43" cy="211.50" r="1.45" fill="#00c000"/>
<circle cx="342.28" cy="206.00" r="1.45" fill="#00c000"/>
<circle cx="349.55" cy="174.60" r="1.45" fill="#00c000"/>
<circle cx="404.61" cy="184.60" r="1.45" fill="#00c000"/>
<polyline points="327.43,211.90 342.28,206.90 349.55,175.20 404.61,201.00" fill="none" stroke="#ff0000" stroke-width="1.0" stroke-linejoin="round"/>
<line x1="342.28" y1="203.00" x2="342.28" y2="209.70" stroke="#ff0000" stroke-width="0.9"/>
<line x1="341.18" y1="203.00" x2="343.38" y2="203.00" stroke="#ff0000" stroke-width="0.9"/>
<line x1="341.18" y1="209.70" x2="343.38" y2="209.70" stroke="#ff0000" stroke-width="0.9"/>
<line x1="349.55" y1="168.10" x2="349.55" y2="181.70" stroke="#ff0000" stroke-width="0.9"/>
<line x1="348.45" y1="168.10" x2="350.65" y2="168.10" stroke="#ff0000" stroke-width="0.9"/>
<line x1="348.45" y1="181.70" x2="350.65" y2="181.70" stroke="#ff0000" stroke-width="0.9"/>
<line x1="404.61" y1="196.30" x2="404.61" y2="205.50" stroke="#ff0000" stroke-width="0.9"/>
<line x1="403.51" y1="196.30" x2="405.71" y2="196.30" stroke="#ff0000" stroke-width="0.9"/>
<line x1="403.51" y1="205.50" x2="405.71" y2="205.50" stroke="#ff0000" stroke-width="0.9"/>
<circle cx="327.43" cy="211.90" r="1.45" fill="#ff0000"/>
<circle cx="342.28" cy="206.90" r="1.45" fill="#ff0000"/>
<circle cx="349.55" cy="175.20" r="1.45" fill="#ff0000"/>
<circle cx="404.61" cy="201.00" r="1.45" fill="#ff0000"/>
<polyline points="327.43,211.90 342.28,205.60 349.55,177.00 404.61,185.00" fill="none" stroke="#0000ff" stroke-width="1.0" stroke-linejoin="round"/>
<line x1="342.28" y1="203.50" x2="342.28" y2="208.00" stroke="#0000ff" stroke-width="0.9"/>
<line x1="341.18" y1="203.50" x2="343.38" y2="203.50" stroke="#0000ff" stroke-width="0.9"/>
<line x1="341.18" y1="208.00" x2="343.38" y2="208.00" stroke="#0000ff" stroke-width="0.9"/>
<line x1="349.55" y1="174.00" x2="349.55" y2="180.00" stroke="#0000ff" stroke-width="0.9"/>
<line x1="348.45" y1="174.00" x2="350.65" y2="174.00" stroke="#0000ff" stroke-width="0.9"/>
<line x1="348.45" y1="180.00" x2="350.65" y2="180.00" stroke="#0000ff" stroke-width="0.9"/>
<line x1="404.61" y1="178.00" x2="404.61" y2="192.20" stroke="#0000ff" stroke-width="0.9"/>
<line x1="403.51" y1="178.00" x2="405.71" y2="178.00" stroke="#0000ff" stroke-width="0.9"/>
<line x1="403.51" y1="192.20" x2="405.71" y2="192.20" stroke="#0000ff" stroke-width="0.9"/>
<circle cx="327.43" cy="211.90" r="1.45" fill="#0000ff"/>
<circle cx="342.28" cy="205.60" r="1.45" fill="#0000ff"/>
<circle cx="349.55" cy="177.00" r="1.45" fill="#0000ff"/>
<circle cx="404.61" cy="185.00" r="1.45" fill="#0000ff"/>
<text x="29.7" y="20.1" font-size="16.5" font-weight="bold" fill="#1a1a1a" stroke="#1a1a1a" stroke-width="0.25">A</text>
<text x="14.6" y="144.2" font-size="15.5" font-weight="bold" fill="#1a1a1a" stroke="#1a1a1a" stroke-width="0.25">B</text>
<text x="14.3" y="289.3" font-size="15.5" font-weight="bold" fill="#1a1a1a" stroke="#1a1a1a" stroke-width="0.25">C</text>
<text x="19.6" y="428.1" font-size="15.5" font-weight="bold" fill="#1a1a1a" stroke="#1a1a1a" stroke-width="0.25">D</text>
<line x1="101.40" y1="261.10" x2="114.20" y2="261.10" stroke="#0000ff" stroke-width="1.5"/>
<circle cx="107.70" cy="261.1" r="2.3" fill="#0000ff"/>
<text x="120.9" y="263.9" font-size="9.8" font-weight="normal" fill="#1a1a1a" stroke="#1a1a1a" stroke-width="0.04" textLength="68.4" lengthAdjust="spacingAndGlyphs">Ad26.RSV.preF</text>
<line x1="204.00" y1="261.10" x2="216.80" y2="261.10" stroke="#ff0000" stroke-width="1.5"/>
<circle cx="210.30" cy="261.1" r="2.3" fill="#ff0000"/>
<text x="223.5" y="263.9" font-size="9.8" font-weight="normal" fill="#1a1a1a" stroke="#1a1a1a" stroke-width="0.04" textLength="74.1" lengthAdjust="spacingAndGlyphs">RSV preF protein</text>
<line x1="308.90" y1="261.10" x2="321.70" y2="261.10" stroke="#00c000" stroke-width="1.5"/>
<circle cx="315.20" cy="261.1" r="2.3" fill="#00c000"/>
<text x="328.4" y="263.9" font-size="9.8" font-weight="normal" fill="#1a1a1a" stroke="#1a1a1a" stroke-width="0.04" textLength="77.2" lengthAdjust="spacingAndGlyphs">Ad26/preF protein</text>
<line x1="83.70" y1="297.80" x2="83.70" y2="376.70" stroke="#333333" stroke-width="1"/>
<line x1="80.70" y1="298.40" x2="83.70" y2="298.40" stroke="#333333" stroke-width="1"/>
<text x="79.9" y="300.5" font-size="6.0" font-weight="bold" fill="#1a1a1a" stroke="#1a1a1a" stroke-width="0.25" text-anchor="end">1024</text>
<line x1="80.70" y1="311.45" x2="83.70" y2="311.45" stroke="#333333" stroke-width="1"/>
<text x="79.9" y="313.55" font-size="6.0" font-weight="bold" fill="#1a1a1a" stroke="#1a1a1a" stroke-width="0.25" text-anchor="end">256</text>
<line x1="80.70" y1="324.50" x2="83.70" y2="324.50" stroke="#333333" stroke-width="1"/>
<text x="79.9" y="326.6" font-size="6.0" font-weight="bold" fill="#1a1a1a" stroke="#1a1a1a" stroke-width="0.25" text-anchor="end">64</text>
<line x1="80.70" y1="337.55" x2="83.70" y2="337.55" stroke="#333333" stroke-width="1"/>
<text x="79.9" y="339.65" font-size="6.0" font-weight="bold" fill="#1a1a1a" stroke="#1a1a1a" stroke-width="0.25" text-anchor="end">16</text>
<line x1="80.70" y1="350.60" x2="83.70" y2="350.60" stroke="#333333" stroke-width="1"/>
<text x="79.9" y="352.7" font-size="6.0" font-weight="bold" fill="#1a1a1a" stroke="#1a1a1a" stroke-width="0.25" text-anchor="end">4</text>
<line x1="80.70" y1="363.65" x2="83.70" y2="363.65" stroke="#333333" stroke-width="1"/>
<text x="79.9" y="365.75" font-size="6.0" font-weight="bold" fill="#1a1a1a" stroke="#1a1a1a" stroke-width="0.25" text-anchor="end">1</text>
<line x1="80.70" y1="376.70" x2="83.70" y2="376.70" stroke="#333333" stroke-width="1"/>
<text x="79.9" y="378.8" font-size="6.0" font-weight="bold" fill="#1a1a1a" stroke="#1a1a1a" stroke-width="0.25" text-anchor="end">0.25</text>
<text x="50.3" y="337.2" font-size="6.5" font-weight="normal" fill="#444" stroke="#444" stroke-width="0.04" text-anchor="middle" transform="rotate(-90 50.3 337.2)">Fold increase in neutralizing antibodies</text>
<text x="59.0" y="337.09999999999997" font-size="6.75" font-weight="normal" fill="#444" stroke="#444" stroke-width="0.04" text-anchor="middle" transform="rotate(-90 59.0 337.09999999999997)">Week -5 to Week 2</text>
<line x1="83.70" y1="376.70" x2="413.90" y2="376.70" stroke="#333333" stroke-width="1"/>
<line x1="93.60" y1="376.70" x2="93.60" y2="379.70" stroke="#333333" stroke-width="1"/>
<line x1="108.15" y1="376.70" x2="108.15" y2="379.70" stroke="#333333" stroke-width="1"/>
<text x="108.14999999999999" y="387.0" font-size="6.0" font-weight="normal" fill="#1a1a1a" stroke="#1a1a1a" stroke-width="0.04" text-anchor="middle" textLength="10.9" lengthAdjust="spacing">A11</text>
<line x1="122.70" y1="376.70" x2="122.70" y2="379.70" stroke="#333333" stroke-width="1"/>
<text x="122.69999999999999" y="387.0" font-size="6.0" font-weight="normal" fill="#1a1a1a" stroke="#1a1a1a" stroke-width="0.04" text-anchor="middle" textLength="10.9" lengthAdjust="spacing">A13</text>
<line x1="137.25" y1="376.70" x2="137.25" y2="379.70" stroke="#333333" stroke-width="1"/>
<text x="137.25" y="387.0" font-size="6.0" font-weight="normal" fill="#1a1a1a" stroke="#1a1a1a" stroke-width="0.04" text-anchor="middle" textLength="10.9" lengthAdjust="spacing">A18</text>
<line x1="151.80" y1="376.70" x2="151.80" y2="379.70" stroke="#333333" stroke-width="1"/>
<text x="151.8" y="387.0" font-size="6.0" font-weight="normal" fill="#1a1a1a" stroke="#1a1a1a" stroke-width="0.04" text-anchor="middle" textLength="10.9" lengthAdjust="spacing">B11</text>
<line x1="166.35" y1="376.70" x2="166.35" y2="379.70" stroke="#333333" stroke-width="1"/>
<text x="166.35" y="387.0" font-size="6.0" font-weight="normal" fill="#1a1a1a" stroke="#1a1a1a" stroke-width="0.04" text-anchor="middle" textLength="10.9" lengthAdjust="spacing">B14</text>
<line x1="180.90" y1="376.70" x2="180.90" y2="379.70" stroke="#333333" stroke-width="1"/>
<text x="180.9" y="387.0" font-size="6.0" font-weight="normal" fill="#1a1a1a" stroke="#1a1a1a" stroke-width="0.04" text-anchor="middle" textLength="10.9" lengthAdjust="spacing">B17</text>
<polyline points="102.15,391.00 102.15,394.00 142.75,394.00 142.75,391.00" fill="none" stroke="#333333" stroke-width="1.2"/>
<polyline points="146.60,391.00 146.60,394.00 184.50,394.00 184.50,391.00" fill="none" stroke="#333333" stroke-width="1.2"/>
<text x="119.39999999999999" y="406.8" font-size="6.7" font-weight="normal" fill="#1a1a1a" stroke="#1a1a1a" stroke-width="0.04" text-anchor="middle" textLength="41.6" lengthAdjust="spacing">RSV A strains</text>
<text x="169.39999999999998" y="406.8" font-size="6.7" font-weight="normal" fill="#1a1a1a" stroke="#1a1a1a" stroke-width="0.04" text-anchor="middle" textLength="42.0" lengthAdjust="spacing">RSV B strains</text>
<line x1="205.00" y1="376.70" x2="205.00" y2="379.70" stroke="#333333" stroke-width="1"/>
<line x1="219.55" y1="376.70" x2="219.55" y2="379.70" stroke="#333333" stroke-width="1"/>
<text x="219.55" y="387.0" font-size="6.0" font-weight="normal" fill="#1a1a1a" stroke="#1a1a1a" stroke-width="0.04" text-anchor="middle" textLength="10.9" lengthAdjust="spacing">A11</text>
<line x1="234.10" y1="376.70" x2="234.10" y2="379.70" stroke="#333333" stroke-width="1"/>
<text x="234.1" y="387.0" font-size="6.0" font-weight="normal" fill="#1a1a1a" stroke="#1a1a1a" stroke-width="0.04" text-anchor="middle" textLength="10.9" lengthAdjust="spacing">A13</text>
<line x1="248.65" y1="376.70" x2="248.65" y2="379.70" stroke="#333333" stroke-width="1"/>
<text x="248.65" y="387.0" font-size="6.0" font-weight="normal" fill="#1a1a1a" stroke="#1a1a1a" stroke-width="0.04" text-anchor="middle" textLength="10.9" lengthAdjust="spacing">A18</text>
<line x1="263.20" y1="376.70" x2="263.20" y2="379.70" stroke="#333333" stroke-width="1"/>
<text x="263.2" y="387.0" font-size="6.0" font-weight="normal" fill="#1a1a1a" stroke="#1a1a1a" stroke-width="0.04" text-anchor="middle" textLength="10.9" lengthAdjust="spacing">B11</text>
<line x1="277.75" y1="376.70" x2="277.75" y2="379.70" stroke="#333333" stroke-width="1"/>
<text x="277.75" y="387.0" font-size="6.0" font-weight="normal" fill="#1a1a1a" stroke="#1a1a1a" stroke-width="0.04" text-anchor="middle" textLength="10.9" lengthAdjust="spacing">B14</text>
<line x1="292.30" y1="376.70" x2="292.30" y2="379.70" stroke="#333333" stroke-width="1"/>
<text x="292.3" y="387.0" font-size="6.0" font-weight="normal" fill="#1a1a1a" stroke="#1a1a1a" stroke-width="0.04" text-anchor="middle" textLength="10.9" lengthAdjust="spacing">B17</text>
<polyline points="213.55,391.00 213.55,394.00 254.15,394.00 254.15,391.00" fill="none" stroke="#333333" stroke-width="1.2"/>
<polyline points="258.00,391.00 258.00,394.00 295.90,394.00 295.90,391.00" fill="none" stroke="#333333" stroke-width="1.2"/>
<text x="230.8" y="406.8" font-size="6.7" font-weight="normal" fill="#1a1a1a" stroke="#1a1a1a" stroke-width="0.04" text-anchor="middle" textLength="41.6" lengthAdjust="spacing">RSV A strains</text>
<text x="280.8" y="406.8" font-size="6.7" font-weight="normal" fill="#1a1a1a" stroke="#1a1a1a" stroke-width="0.04" text-anchor="middle" textLength="42.0" lengthAdjust="spacing">RSV B strains</text>
<line x1="316.10" y1="376.70" x2="316.10" y2="379.70" stroke="#333333" stroke-width="1"/>
<line x1="330.65" y1="376.70" x2="330.65" y2="379.70" stroke="#333333" stroke-width="1"/>
<text x="330.65000000000003" y="387.0" font-size="6.0" font-weight="normal" fill="#1a1a1a" stroke="#1a1a1a" stroke-width="0.04" text-anchor="middle" textLength="10.9" lengthAdjust="spacing">A11</text>
<line x1="345.20" y1="376.70" x2="345.20" y2="379.70" stroke="#333333" stroke-width="1"/>
<text x="345.20000000000005" y="387.0" font-size="6.0" font-weight="normal" fill="#1a1a1a" stroke="#1a1a1a" stroke-width="0.04" text-anchor="middle" textLength="10.9" lengthAdjust="spacing">A13</text>
<line x1="359.75" y1="376.70" x2="359.75" y2="379.70" stroke="#333333" stroke-width="1"/>
<text x="359.75" y="387.0" font-size="6.0" font-weight="normal" fill="#1a1a1a" stroke="#1a1a1a" stroke-width="0.04" text-anchor="middle" textLength="10.9" lengthAdjust="spacing">A18</text>
<line x1="374.30" y1="376.70" x2="374.30" y2="379.70" stroke="#333333" stroke-width="1"/>
<text x="374.3" y="387.0" font-size="6.0" font-weight="normal" fill="#1a1a1a" stroke="#1a1a1a" stroke-width="0.04" text-anchor="middle" textLength="10.9" lengthAdjust="spacing">B11</text>
<line x1="388.85" y1="376.70" x2="388.85" y2="379.70" stroke="#333333" stroke-width="1"/>
<text x="388.85" y="387.0" font-size="6.0" font-weight="normal" fill="#1a1a1a" stroke="#1a1a1a" stroke-width="0.04" text-anchor="middle" textLength="10.9" lengthAdjust="spacing">B14</text>
<line x1="403.40" y1="376.70" x2="403.40" y2="379.70" stroke="#333333" stroke-width="1"/>
<text x="403.40000000000003" y="387.0" font-size="6.0" font-weight="normal" fill="#1a1a1a" stroke="#1a1a1a" stroke-width="0.04" text-anchor="middle" textLength="10.9" lengthAdjust="spacing">B17</text>
<polyline points="324.65,391.00 324.65,394.00 365.25,394.00 365.25,391.00" fill="none" stroke="#333333" stroke-width="1.2"/>
<polyline points="369.10,391.00 369.10,394.00 407.00,394.00 407.00,391.00" fill="none" stroke="#333333" stroke-width="1.2"/>
<text x="341.90000000000003" y="406.8" font-size="6.7" font-weight="normal" fill="#1a1a1a" stroke="#1a1a1a" stroke-width="0.04" text-anchor="middle" textLength="41.6" lengthAdjust="spacing">RSV A strains</text>
<text x="391.90000000000003" y="406.8" font-size="6.7" font-weight="normal" fill="#1a1a1a" stroke="#1a1a1a" stroke-width="0.04" text-anchor="middle" textLength="42.0" lengthAdjust="spacing">RSV B strains</text>
<line x1="103.55" y1="322.00" x2="112.75" y2="322.00" stroke="#484848" stroke-width="1.1"/>
<circle cx="104.90" cy="318.70" r="1.8" fill="#0000ff"/>
<circle cx="111.50" cy="317.30" r="1.8" fill="#0000ff"/>
<circle cx="111.50" cy="321.80" r="1.8" fill="#0000ff"/>
<circle cx="108.10" cy="329.90" r="1.8" fill="#0000ff"/>
<line x1="118.10" y1="325.20" x2="127.30" y2="325.20" stroke="#484848" stroke-width="1.1"/>
<circle cx="122.60" cy="320.10" r="1.8" fill="#0000ff"/>
<circle cx="119.90" cy="328.00" r="1.8" fill="#0000ff"/>
<circle cx="123.20" cy="326.50" r="1.8" fill="#0000ff"/>
<circle cx="125.80" cy="326.50" r="1.8" fill="#0000ff"/>
<line x1="132.65" y1="320.50" x2="141.85" y2="320.50" stroke="#484848" stroke-width="1.1"/>
<circle cx="134.20" cy="317.30" r="1.8" fill="#0000ff"/>
<circle cx="140.40" cy="317.30" r="1.8" fill="#0000ff"/>
<circle cx="137.60" cy="320.10" r="1.8" fill="#0000ff"/>
<circle cx="137.60" cy="326.70" r="1.8" fill="#0000ff"/>
<line x1="147.20" y1="327.40" x2="156.40" y2="327.40" stroke="#484848" stroke-width="1.1"/>
<circle cx="151.60" cy="321.50" r="1.8" fill="#0000ff"/>
<circle cx="151.60" cy="325.70" r="1.8" fill="#0000ff"/>
<circle cx="148.80" cy="331.70" r="1.8" fill="#0000ff"/>
<circle cx="155.30" cy="329.30" r="1.8" fill="#0000ff"/>
<line x1="161.75" y1="321.10" x2="170.95" y2="321.10" stroke="#484848" stroke-width="1.1"/>
<circle cx="166.50" cy="314.90" r="1.8" fill="#0000ff"/>
<circle cx="163.30" cy="324.80" r="1.8" fill="#0000ff"/>
<circle cx="166.50" cy="321.50" r="1.8" fill="#0000ff"/>
<circle cx="169.90" cy="323.30" r="1.8" fill="#0000ff"/>
<line x1="176.30" y1="318.10" x2="185.50" y2="318.10" stroke="#484848" stroke-width="1.1"/>
<circle cx="181.00" cy="310.80" r="1.8" fill="#0000ff"/>
<circle cx="177.90" cy="319.00" r="1.8" fill="#0000ff"/>
<circle cx="184.20" cy="319.00" r="1.8" fill="#0000ff"/>
<circle cx="181.00" cy="324.30" r="1.8" fill="#0000ff"/>
<line x1="214.95" y1="317.00" x2="224.15" y2="317.00" stroke="#484848" stroke-width="1.1"/>
<circle cx="219.60" cy="306.20" r="1.8" fill="#ff0000"/>
<circle cx="219.60" cy="311.20" r="1.8" fill="#ff0000"/>
<circle cx="219.60" cy="322.40" r="1.8" fill="#ff0000"/>
<circle cx="219.60" cy="329.50" r="1.8" fill="#ff0000"/>
<line x1="229.50" y1="321.70" x2="238.70" y2="321.70" stroke="#484848" stroke-width="1.1"/>
<circle cx="233.90" cy="310.90" r="1.8" fill="#ff0000"/>
<circle cx="233.90" cy="318.70" r="1.8" fill="#ff0000"/>
<circle cx="231.10" cy="330.40" r="1.8" fill="#ff0000"/>
<circle cx="237.30" cy="327.30" r="1.8" fill="#ff0000"/>
<line x1="244.05" y1="316.50" x2="253.25" y2="316.50" stroke="#484848" stroke-width="1.1"/>
<circle cx="248.50" cy="305.30" r="1.8" fill="#ff0000"/>
<circle cx="248.50" cy="309.40" r="1.8" fill="#ff0000"/>
<circle cx="248.50" cy="321.50" r="1.8" fill="#ff0000"/>
<circle cx="248.50" cy="329.50" r="1.8" fill="#ff0000"/>
<line x1="258.60" y1="322.40" x2="267.80" y2="322.40" stroke="#484848" stroke-width="1.1"/>
<circle cx="263.20" cy="312.20" r="1.8" fill="#ff0000"/>
<circle cx="263.20" cy="320.20" r="1.8" fill="#ff0000"/>
<circle cx="263.20" cy="325.80" r="1.8" fill="#ff0000"/>
<circle cx="263.20" cy="330.40" r="1.8" fill="#ff0000"/>
<line x1="273.15" y1="320.00" x2="282.35" y2="320.00" stroke="#484848" stroke-width="1.1"/>
<circle cx="277.60" cy="306.50" r="1.8" fill="#ff0000"/>
<circle cx="277.60" cy="318.80" r="1.8" fill="#ff0000"/>
<circle cx="274.60" cy="329.10" r="1.8" fill="#ff0000"/>
<circle cx="280.70" cy="326.70" r="1.8" fill="#ff0000"/>
<line x1="287.70" y1="314.30" x2="296.90" y2="314.30" stroke="#484848" stroke-width="1.1"/>
<circle cx="292.00" cy="305.30" r="1.8" fill="#ff0000"/>
<circle cx="292.00" cy="310.50" r="1.8" fill="#ff0000"/>
<circle cx="288.70" cy="321.30" r="1.8" fill="#ff0000"/>
<circle cx="295.60" cy="319.90" r="1.8" fill="#ff0000"/>
<line x1="326.05" y1="318.80" x2="335.25" y2="318.80" stroke="#484848" stroke-width="1.1"/>
<circle cx="330.50" cy="310.90" r="1.8" fill="#00c000"/>
<circle cx="327.00" cy="320.20" r="1.8" fill="#00c000"/>
<circle cx="334.00" cy="321.80" r="1.8" fill="#00c000"/>
<circle cx="327.00" cy="324.10" r="1.8" fill="#00c000"/>
<line x1="340.60" y1="318.80" x2="349.80" y2="318.80" stroke="#484848" stroke-width="1.1"/>
<circle cx="348.40" cy="314.80" r="1.8" fill="#00c000"/>
<circle cx="341.40" cy="317.80" r="1.8" fill="#00c000"/>
<circle cx="345.20" cy="324.10" r="1.8" fill="#00c000"/>
<circle cx="348.40" cy="319.50" r="1.8" fill="#00c000"/>
<line x1="355.15" y1="317.10" x2="364.35" y2="317.10" stroke="#484848" stroke-width="1.1"/>
<circle cx="359.60" cy="310.20" r="1.8" fill="#00c000"/>
<circle cx="356.10" cy="316.40" r="1.8" fill="#00c000"/>
<circle cx="363.10" cy="317.60" r="1.8" fill="#00c000"/>
<circle cx="359.60" cy="323.00" r="1.8" fill="#00c000"/>
<line x1="369.70" y1="327.00" x2="378.90" y2="327.00" stroke="#484848" stroke-width="1.1"/>
<circle cx="374.30" cy="320.20" r="1.8" fill="#00c000"/>
<circle cx="374.30" cy="323.00" r="1.8" fill="#00c000"/>
<circle cx="374.30" cy="330.40" r="1.8" fill="#00c000"/>
<circle cx="374.30" cy="333.50" r="1.8" fill="#00c000"/>
<line x1="384.25" y1="323.40" x2="393.45" y2="323.40" stroke="#484848" stroke-width="1.1"/>
<circle cx="388.80" cy="314.10" r="1.8" fill="#00c000"/>
<circle cx="388.80" cy="321.10" r="1.8" fill="#00c000"/>
<circle cx="385.30" cy="329.50" r="1.8" fill="#00c000"/>
<circle cx="392.30" cy="328.10" r="1.8" fill="#00c000"/>
<line x1="398.80" y1="315.50" x2="408.00" y2="315.50" stroke="#484848" stroke-width="1.1"/>
<circle cx="400.00" cy="311.80" r="1.8" fill="#00c000"/>
<circle cx="406.70" cy="311.80" r="1.8" fill="#00c000"/>
<circle cx="403.20" cy="316.40" r="1.8" fill="#00c000"/>
<circle cx="403.20" cy="321.80" r="1.8" fill="#00c000"/>
<line x1="83.70" y1="436.00" x2="83.70" y2="514.90" stroke="#333333" stroke-width="1"/>
<line x1="80.70" y1="436.60" x2="83.70" y2="436.60" stroke="#333333" stroke-width="1"/>
<text x="79.9" y="438.7" font-size="6.0" font-weight="bold" fill="#1a1a1a" stroke="#1a1a1a" stroke-width="0.25" text-anchor="end">1024</text>
<line x1="80.70" y1="449.65" x2="83.70" y2="449.65" stroke="#333333" stroke-width="1"/>
<text x="79.9" y="451.75" font-size="6.0" font-weight="bold" fill="#1a1a1a" stroke="#1a1a1a" stroke-width="0.25" text-anchor="end">256</text>
<line x1="80.70" y1="462.70" x2="83.70" y2="462.70" stroke="#333333" stroke-width="1"/>
<text x="79.9" y="464.8" font-size="6.0" font-weight="bold" fill="#1a1a1a" stroke="#1a1a1a" stroke-width="0.25" text-anchor="end">64</text>
<line x1="80.70" y1="475.75" x2="83.70" y2="475.75" stroke="#333333" stroke-width="1"/>
<text x="79.9" y="477.85" font-size="6.0" font-weight="bold" fill="#1a1a1a" stroke="#1a1a1a" stroke-width="0.25" text-anchor="end">16</text>
<line x1="80.70" y1="488.80" x2="83.70" y2="488.80" stroke="#333333" stroke-width="1"/>
<text x="79.9" y="490.9" font-size="6.0" font-weight="bold" fill="#1a1a1a" stroke="#1a1a1a" stroke-width="0.25" text-anchor="end">4</text>
<line x1="80.70" y1="501.85" x2="83.70" y2="501.85" stroke="#333333" stroke-width="1"/>
<text x="79.9" y="503.95" font-size="6.0" font-weight="bold" fill="#1a1a1a" stroke="#1a1a1a" stroke-width="0.25" text-anchor="end">1</text>
<line x1="80.70" y1="514.90" x2="83.70" y2="514.90" stroke="#333333" stroke-width="1"/>
<text x="79.9" y="517.0" font-size="6.0" font-weight="bold" fill="#1a1a1a" stroke="#1a1a1a" stroke-width="0.25" text-anchor="end">0.25</text>
<text x="50.3" y="475.4" font-size="6.5" font-weight="normal" fill="#444" stroke="#444" stroke-width="0.04" text-anchor="middle" transform="rotate(-90 50.3 475.4)">Fold increase in neutralizing antibodies</text>
<text x="59.0" y="475.29999999999995" font-size="6.75" font-weight="normal" fill="#444" stroke="#444" stroke-width="0.04" text-anchor="middle" transform="rotate(-90 59.0 475.29999999999995)">Week -5 to Week 55</text>
<line x1="83.70" y1="514.90" x2="413.90" y2="514.90" stroke="#333333" stroke-width="1"/>
<line x1="93.60" y1="514.90" x2="93.60" y2="517.90" stroke="#333333" stroke-width="1"/>
<line x1="108.15" y1="514.90" x2="108.15" y2="517.90" stroke="#333333" stroke-width="1"/>
<text x="108.14999999999999" y="525.1999999999999" font-size="6.0" font-weight="normal" fill="#1a1a1a" stroke="#1a1a1a" stroke-width="0.04" text-anchor="middle" textLength="10.9" lengthAdjust="spacing">A11</text>
<line x1="122.70" y1="514.90" x2="122.70" y2="517.90" stroke="#333333" stroke-width="1"/>
<text x="122.69999999999999" y="525.1999999999999" font-size="6.0" font-weight="normal" fill="#1a1a1a" stroke="#1a1a1a" stroke-width="0.04" text-anchor="middle" textLength="10.9" lengthAdjust="spacing">A13</text>
<line x1="137.25" y1="514.90" x2="137.25" y2="517.90" stroke="#333333" stroke-width="1"/>
<text x="137.25" y="525.1999999999999" font-size="6.0" font-weight="normal" fill="#1a1a1a" stroke="#1a1a1a" stroke-width="0.04" text-anchor="middle" textLength="10.9" lengthAdjust="spacing">A18</text>
<line x1="151.80" y1="514.90" x2="151.80" y2="517.90" stroke="#333333" stroke-width="1"/>
<text x="151.8" y="525.1999999999999" font-size="6.0" font-weight="normal" fill="#1a1a1a" stroke="#1a1a1a" stroke-width="0.04" text-anchor="middle" textLength="10.9" lengthAdjust="spacing">B11</text>
<line x1="166.35" y1="514.90" x2="166.35" y2="517.90" stroke="#333333" stroke-width="1"/>
<text x="166.35" y="525.1999999999999" font-size="6.0" font-weight="normal" fill="#1a1a1a" stroke="#1a1a1a" stroke-width="0.04" text-anchor="middle" textLength="10.9" lengthAdjust="spacing">B14</text>
<line x1="180.90" y1="514.90" x2="180.90" y2="517.90" stroke="#333333" stroke-width="1"/>
<text x="180.9" y="525.1999999999999" font-size="6.0" font-weight="normal" fill="#1a1a1a" stroke="#1a1a1a" stroke-width="0.04" text-anchor="middle" textLength="10.9" lengthAdjust="spacing">B17</text>
<polyline points="102.15,529.20 102.15,532.20 142.75,532.20 142.75,529.20" fill="none" stroke="#333333" stroke-width="1.2"/>
<polyline points="146.60,529.20 146.60,532.20 184.50,532.20 184.50,529.20" fill="none" stroke="#333333" stroke-width="1.2"/>
<text x="119.39999999999999" y="545.0" font-size="6.7" font-weight="normal" fill="#1a1a1a" stroke="#1a1a1a" stroke-width="0.04" text-anchor="middle" textLength="41.6" lengthAdjust="spacing">RSV A strains</text>
<text x="169.39999999999998" y="545.0" font-size="6.7" font-weight="normal" fill="#1a1a1a" stroke="#1a1a1a" stroke-width="0.04" text-anchor="middle" textLength="42.0" lengthAdjust="spacing">RSV B strains</text>
<line x1="205.00" y1="514.90" x2="205.00" y2="517.90" stroke="#333333" stroke-width="1"/>
<line x1="219.55" y1="514.90" x2="219.55" y2="517.90" stroke="#333333" stroke-width="1"/>
<text x="219.55" y="525.1999999999999" font-size="6.0" font-weight="normal" fill="#1a1a1a" stroke="#1a1a1a" stroke-width="0.04" text-anchor="middle" textLength="10.9" lengthAdjust="spacing">A11</text>
<line x1="234.10" y1="514.90" x2="234.10" y2="517.90" stroke="#333333" stroke-width="1"/>
<text x="234.1" y="525.1999999999999" font-size="6.0" font-weight="normal" fill="#1a1a1a" stroke="#1a1a1a" stroke-width="0.04" text-anchor="middle" textLength="10.9" lengthAdjust="spacing">A13</text>
<line x1="248.65" y1="514.90" x2="248.65" y2="517.90" stroke="#333333" stroke-width="1"/>
<text x="248.65" y="525.1999999999999" font-size="6.0" font-weight="normal" fill="#1a1a1a" stroke="#1a1a1a" stroke-width="0.04" text-anchor="middle" textLength="10.9" lengthAdjust="spacing">A18</text>
<line x1="263.20" y1="514.90" x2="263.20" y2="517.90" stroke="#333333" stroke-width="1"/>
<text x="263.2" y="525.1999999999999" font-size="6.0" font-weight="normal" fill="#1a1a1a" stroke="#1a1a1a" stroke-width="0.04" text-anchor="middle" textLength="10.9" lengthAdjust="spacing">B11</text>
<line x1="277.75" y1="514.90" x2="277.75" y2="517.90" stroke="#333333" stroke-width="1"/>
<text x="277.75" y="525.1999999999999" font-size="6.0" font-weight="normal" fill="#1a1a1a" stroke="#1a1a1a" stroke-width="0.04" text-anchor="middle" textLength="10.9" lengthAdjust="spacing">B14</text>
<line x1="292.30" y1="514.90" x2="292.30" y2="517.90" stroke="#333333" stroke-width="1"/>
<text x="292.3" y="525.1999999999999" font-size="6.0" font-weight="normal" fill="#1a1a1a" stroke="#1a1a1a" stroke-width="0.04" text-anchor="middle" textLength="10.9" lengthAdjust="spacing">B17</text>
<polyline points="213.55,529.20 213.55,532.20 254.15,532.20 254.15,529.20" fill="none" stroke="#333333" stroke-width="1.2"/>
<polyline points="258.00,529.20 258.00,532.20 295.90,532.20 295.90,529.20" fill="none" stroke="#333333" stroke-width="1.2"/>
<text x="230.8" y="545.0" font-size="6.7" font-weight="normal" fill="#1a1a1a" stroke="#1a1a1a" stroke-width="0.04" text-anchor="middle" textLength="41.6" lengthAdjust="spacing">RSV A strains</text>
<text x="280.8" y="545.0" font-size="6.7" font-weight="normal" fill="#1a1a1a" stroke="#1a1a1a" stroke-width="0.04" text-anchor="middle" textLength="42.0" lengthAdjust="spacing">RSV B strains</text>
<line x1="316.10" y1="514.90" x2="316.10" y2="517.90" stroke="#333333" stroke-width="1"/>
<line x1="330.65" y1="514.90" x2="330.65" y2="517.90" stroke="#333333" stroke-width="1"/>
<text x="330.65000000000003" y="525.1999999999999" font-size="6.0" font-weight="normal" fill="#1a1a1a" stroke="#1a1a1a" stroke-width="0.04" text-anchor="middle" textLength="10.9" lengthAdjust="spacing">A11</text>
<line x1="345.20" y1="514.90" x2="345.20" y2="517.90" stroke="#333333" stroke-width="1"/>
<text x="345.20000000000005" y="525.1999999999999" font-size="6.0" font-weight="normal" fill="#1a1a1a" stroke="#1a1a1a" stroke-width="0.04" text-anchor="middle" textLength="10.9" lengthAdjust="spacing">A13</text>
<line x1="359.75" y1="514.90" x2="359.75" y2="517.90" stroke="#333333" stroke-width="1"/>
<text x="359.75" y="525.1999999999999" font-size="6.0" font-weight="normal" fill="#1a1a1a" stroke="#1a1a1a" stroke-width="0.04" text-anchor="middle" textLength="10.9" lengthAdjust="spacing">A18</text>
<line x1="374.30" y1="514.90" x2="374.30" y2="517.90" stroke="#333333" stroke-width="1"/>
<text x="374.3" y="525.1999999999999" font-size="6.0" font-weight="normal" fill="#1a1a1a" stroke="#1a1a1a" stroke-width="0.04" text-anchor="middle" textLength="10.9" lengthAdjust="spacing">B11</text>
<line x1="388.85" y1="514.90" x2="388.85" y2="517.90" stroke="#333333" stroke-width="1"/>
<text x="388.85" y="525.1999999999999" font-size="6.0" font-weight="normal" fill="#1a1a1a" stroke="#1a1a1a" stroke-width="0.04" text-anchor="middle" textLength="10.9" lengthAdjust="spacing">B14</text>
<line x1="403.40" y1="514.90" x2="403.40" y2="517.90" stroke="#333333" stroke-width="1"/>
<text x="403.40000000000003" y="525.1999999999999" font-size="6.0" font-weight="normal" fill="#1a1a1a" stroke="#1a1a1a" stroke-width="0.04" text-anchor="middle" textLength="10.9" lengthAdjust="spacing">B17</text>
<polyline points="324.65,529.20 324.65,532.20 365.25,532.20 365.25,529.20" fill="none" stroke="#333333" stroke-width="1.2"/>
<polyline points="369.10,529.20 369.10,532.20 407.00,532.20 407.00,529.20" fill="none" stroke="#333333" stroke-width="1.2"/>
<text x="341.90000000000003" y="545.0" font-size="6.7" font-weight="normal" fill="#1a1a1a" stroke="#1a1a1a" stroke-width="0.04" text-anchor="middle" textLength="41.6" lengthAdjust="spacing">RSV A strains</text>
<text x="391.90000000000003" y="545.0" font-size="6.7" font-weight="normal" fill="#1a1a1a" stroke="#1a1a1a" stroke-width="0.04" text-anchor="middle" textLength="42.0" lengthAdjust="spacing">RSV B strains</text>
<line x1="103.55" y1="463.80" x2="112.75" y2="463.80" stroke="#484848" stroke-width="1.1"/>
<circle cx="108.30" cy="452.90" r="1.8" fill="#0000ff"/>
<circle cx="105.50" cy="463.40" r="1.8" fill="#0000ff"/>
<circle cx="111.80" cy="465.00" r="1.8" fill="#0000ff"/>
<circle cx="108.30" cy="472.70" r="1.8" fill="#0000ff"/>
<line x1="118.10" y1="466.20" x2="127.30" y2="466.20" stroke="#484848" stroke-width="1.1"/>
<circle cx="123.00" cy="447.10" r="1.8" fill="#0000ff"/>
<circle cx="120.00" cy="474.30" r="1.8" fill="#0000ff"/>
<circle cx="123.40" cy="471.50" r="1.8" fill="#0000ff"/>
<circle cx="126.50" cy="472.00" r="1.8" fill="#0000ff"/>
<line x1="132.65" y1="461.00" x2="141.85" y2="461.00" stroke="#484848" stroke-width="1.1"/>
<circle cx="137.40" cy="443.60" r="1.8" fill="#0000ff"/>
<circle cx="137.40" cy="463.40" r="1.8" fill="#0000ff"/>
<circle cx="134.20" cy="470.80" r="1.8" fill="#0000ff"/>
<circle cx="140.90" cy="467.60" r="1.8" fill="#0000ff"/>
<line x1="147.20" y1="475.50" x2="156.40" y2="475.50" stroke="#484848" stroke-width="1.1"/>
<circle cx="152.10" cy="457.10" r="1.8" fill="#0000ff"/>
<circle cx="152.10" cy="477.40" r="1.8" fill="#0000ff"/>
<circle cx="149.10" cy="483.70" r="1.8" fill="#0000ff"/>
<circle cx="155.60" cy="483.70" r="1.8" fill="#0000ff"/>
<line x1="161.75" y1="469.70" x2="170.95" y2="469.70" stroke="#484848" stroke-width="1.1"/>
<circle cx="166.60" cy="446.60" r="1.8" fill="#0000ff"/>
<circle cx="166.60" cy="472.70" r="1.8" fill="#0000ff"/>
<circle cx="163.30" cy="480.40" r="1.8" fill="#0000ff"/>
<circle cx="170.10" cy="477.80" r="1.8" fill="#0000ff"/>
<line x1="176.30" y1="469.70" x2="185.50" y2="469.70" stroke="#484848" stroke-width="1.1"/>
<circle cx="181.20" cy="454.00" r="1.8" fill="#0000ff"/>
<circle cx="181.20" cy="470.40" r="1.8" fill="#0000ff"/>
<circle cx="177.80" cy="477.80" r="1.8" fill="#0000ff"/>
<circle cx="184.30" cy="476.90" r="1.8" fill="#0000ff"/>
<line x1="214.95" y1="497.20" x2="224.15" y2="497.20" stroke="#484848" stroke-width="1.1"/>
<circle cx="219.70" cy="492.10" r="1.8" fill="#ff0000"/>
<circle cx="216.20" cy="496.50" r="1.8" fill="#ff0000"/>
<circle cx="223.20" cy="496.70" r="1.8" fill="#ff0000"/>
<circle cx="219.70" cy="504.70" r="1.8" fill="#ff0000"/>
<line x1="229.50" y1="496.50" x2="238.70" y2="496.50" stroke="#484848" stroke-width="1.1"/>
<circle cx="231.10" cy="493.00" r="1.8" fill="#ff0000"/>
<circle cx="237.60" cy="490.90" r="1.8" fill="#ff0000"/>
<circle cx="234.10" cy="498.40" r="1.8" fill="#ff0000"/>
<circle cx="234.10" cy="503.50" r="1.8" fill="#ff0000"/>
<line x1="244.05" y1="494.20" x2="253.25" y2="494.20" stroke="#484848" stroke-width="1.1"/>
<circle cx="245.30" cy="489.00" r="1.8" fill="#ff0000"/>
<circle cx="248.80" cy="492.50" r="1.8" fill="#ff0000"/>
<circle cx="252.30" cy="490.90" r="1.8" fill="#ff0000"/>
<circle cx="248.80" cy="505.80" r="1.8" fill="#ff0000"/>
<line x1="258.60" y1="493.70" x2="267.80" y2="493.70" stroke="#484848" stroke-width="1.1"/>
<circle cx="260.20" cy="494.20" r="1.8" fill="#ff0000"/>
<circle cx="263.70" cy="494.20" r="1.8" fill="#ff0000"/>
<circle cx="266.80" cy="494.20" r="1.8" fill="#ff0000"/>
<circle cx="263.30" cy="498.40" r="1.8" fill="#ff0000"/>
<line x1="273.15" y1="493.70" x2="282.35" y2="493.70" stroke="#484848" stroke-width="1.1"/>
<circle cx="274.50" cy="492.50" r="1.8" fill="#ff0000"/>
<circle cx="280.80" cy="489.50" r="1.8" fill="#ff0000"/>
<circle cx="280.80" cy="494.90" r="1.8" fill="#ff0000"/>
<circle cx="277.70" cy="498.40" r="1.8" fill="#ff0000"/>
<line x1="287.70" y1="493.70" x2="296.90" y2="493.70" stroke="#484848" stroke-width="1.1"/>
<circle cx="288.90" cy="490.90" r="1.8" fill="#ff0000"/>
<circle cx="295.90" cy="490.20" r="1.8" fill="#ff0000"/>
<circle cx="292.40" cy="494.40" r="1.8" fill="#ff0000"/>
<circle cx="292.40" cy="500.00" r="1.8" fill="#ff0000"/>
<line x1="326.05" y1="474.50" x2="335.25" y2="474.50" stroke="#484848" stroke-width="1.1"/>
<circle cx="327.80" cy="472.70" r="1.8" fill="#00c000"/>
<circle cx="334.10" cy="472.70" r="1.8" fill="#00c000"/>
<circle cx="330.90" cy="475.00" r="1.8" fill="#00c000"/>
<circle cx="330.90" cy="478.50" r="1.8" fill="#00c000"/>
<line x1="340.60" y1="475.70" x2="349.80" y2="475.70" stroke="#484848" stroke-width="1.1"/>
<circle cx="341.80" cy="473.80" r="1.8" fill="#00c000"/>
<circle cx="349.30" cy="473.40" r="1.8" fill="#00c000"/>
<circle cx="342.50" cy="479.20" r="1.8" fill="#00c000"/>
<circle cx="349.30" cy="478.00" r="1.8" fill="#00c000"/>
<line x1="355.15" y1="468.70" x2="364.35" y2="468.70" stroke="#484848" stroke-width="1.1"/>
<circle cx="360.00" cy="463.60" r="1.8" fill="#00c000"/>
<circle cx="356.50" cy="471.00" r="1.8" fill="#00c000"/>
<circle cx="360.50" cy="469.40" r="1.8" fill="#00c000"/>
<circle cx="364.00" cy="469.90" r="1.8" fill="#00c000"/>
<line x1="369.70" y1="477.30" x2="378.90" y2="477.30" stroke="#484848" stroke-width="1.1"/>
<circle cx="374.40" cy="469.90" r="1.8" fill="#00c000"/>
<circle cx="374.40" cy="472.90" r="1.8" fill="#00c000"/>
<circle cx="374.40" cy="479.90" r="1.8" fill="#00c000"/>
<circle cx="374.40" cy="485.50" r="1.8" fill="#00c000"/>
<line x1="384.25" y1="472.90" x2="393.45" y2="472.90" stroke="#484848" stroke-width="1.1"/>
<circle cx="386.10" cy="465.90" r="1.8" fill="#00c000"/>
<circle cx="391.90" cy="465.90" r="1.8" fill="#00c000"/>
<circle cx="389.10" cy="478.70" r="1.8" fill="#00c000"/>
<circle cx="389.10" cy="482.20" r="1.8" fill="#00c000"/>
<line x1="398.80" y1="469.20" x2="408.00" y2="469.20" stroke="#484848" stroke-width="1.1"/>
<circle cx="403.60" cy="457.10" r="1.8" fill="#00c000"/>
<circle cx="403.60" cy="468.00" r="1.8" fill="#00c000"/>
<circle cx="400.10" cy="476.20" r="1.8" fill="#00c000"/>
<circle cx="407.10" cy="475.20" r="1.8" fill="#00c000"/>
</svg></body></html>
